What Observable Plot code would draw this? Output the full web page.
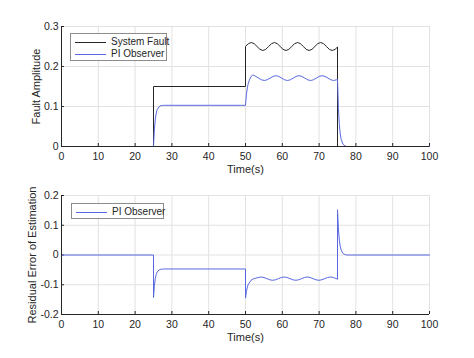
<!DOCTYPE html>
<html>
<head>
<meta charset="utf-8">
<script src="https://cdn.jsdelivr.net/npm/d3@7"></script>
<script src="https://cdn.jsdelivr.net/npm/@observablehq/plot@0.6"></script>
<style>
  html, body { margin: 0; padding: 0; background: white; }
  #wrap { position: relative; width: 474px; height: 358px; font-family: "Liberation Sans", Arial, sans-serif; }
  #wrap svg { display: block; }
  .legend { position: absolute; background: white; border: 1px solid #8c8c8c; box-sizing: border-box; font-size: 10px; color: #262626; }
  .legend .row { position: absolute; left: 0; height: 12px; line-height: 12px; white-space: nowrap; }
  .legend .sw { position: absolute; left: 4px; top: 6px; width: 31px; height: 0; border-top: 1px solid; }
  .legend .lb { position: absolute; left: 40px; top: 0; }
</style>
</head>
<body>
<div id="wrap"></div>
<script>
// ---- data ----
const xTicks = [0, 10, 20, 30, 40, 50, 60, 70, 80, 90, 100];
const yTicksTop = [0, 0.1, 0.2, 0.3];
const yTicksBottom = [-0.2, -0.1, 0, 0.1, 0.2];
const seriesNames = ["System Fault", "PI Observer"];

// System Fault: [time, amplitude]
const faultPts = [
  [0,0],[25,0],[25,0.15],[50,0.15],[50,0.25],
  [50.79,0.2571],[51.57,0.26],[52.36,0.2571],[53.14,0.25],[53.93,0.2429],[54.71,0.24],[55.50,0.2429],
  [56.28,0.25],[57.07,0.2571],[57.85,0.26],[58.64,0.2571],[59.42,0.25],[60.21,0.2429],[60.99,0.24],[61.78,0.2429],
  [62.57,0.25],[63.35,0.2571],[64.14,0.26],[64.92,0.2571],[65.71,0.25],[66.49,0.2429],[67.28,0.24],[68.06,0.2429],
  [68.85,0.25],[69.63,0.2571],[70.42,0.26],[71.21,0.2571],[71.99,0.25],[72.78,0.2429],[73.56,0.24],[74.35,0.2429],
  [75,0.2487],[75,0],[100,0]
];

// PI Observer estimate: [time, amplitude]
const observerPts = [
  [0,0],[25,0],[25.25,0.044],[25.5,0.069],[25.75,0.0835],[26,0.092],[26.5,0.0994],[27,0.102],[27.5,0.1027],[28,0.103],[50,0.103],
  [50.25,0.130],[50.5,0.1466],[50.75,0.1575],[51,0.1646],[51.5,0.175],[52,0.179],[52.76,0.1755],[53.54,0.171],[54.33,0.1668],
  [55.11,0.165],[55.90,0.1668],[56.68,0.171],[57.47,0.1752],[58.25,0.177],[59.04,0.1752],[59.82,0.171],[60.61,0.1668],
  [61.40,0.165],[62.18,0.1668],[62.97,0.171],[63.75,0.1752],[64.54,0.177],[65.32,0.1752],[66.11,0.171],[66.89,0.1668],
  [67.68,0.165],[68.46,0.1668],[69.25,0.171],[70.03,0.1752],[70.82,0.177],[71.60,0.1752],[72.39,0.171],[73.18,0.1668],
  [73.96,0.165],[74.75,0.1668],[75,0.168],
  [75.25,0.095],[75.5,0.055],[75.75,0.031],[76,0.018],[76.5,0.0055],[77,0.0017],[77.5,0],[100,0]
];

// Residual error of estimation (PI Observer): [time, error]
const residualPts = [
  [0,0],[25,0],[25,-0.143],[25.25,-0.102],[25.5,-0.0786],[25.75,-0.0651],[26,-0.0574],[26.5,-0.0504],[27,-0.0481],[27.5,-0.0474],[28,-0.047],[50,-0.047],
  [50,-0.145],[50.25,-0.123],[50.5,-0.108],[50.75,-0.099],[51,-0.094],[51.5,-0.085],[52,-0.081],[52.5,-0.079],
  [53.45,-0.0756],[54.23,-0.074],[55.02,-0.0756],[55.80,-0.0795],[56.59,-0.0834],[57.37,-0.085],[58.16,-0.0834],
  [58.94,-0.0795],[59.73,-0.0756],[60.51,-0.074],[61.30,-0.0756],[62.08,-0.0795],[62.87,-0.0834],[63.66,-0.085],
  [64.44,-0.0834],[65.23,-0.0795],[66.01,-0.0756],[66.80,-0.074],[67.58,-0.0756],[68.37,-0.0795],[69.15,-0.0834],
  [69.94,-0.085],[70.72,-0.0834],[71.51,-0.0795],[72.30,-0.0756],[73.08,-0.074],[73.87,-0.0756],[74.65,-0.0795],[75,-0.0814],
  [75,0.152],[75.25,0.087],[75.5,0.050],[75.75,0.0286],[76,0.0164],[76.5,0.005],[77,0.0017],[77.5,0],[100,0]
];

// ---- styling ----
const FAULT_COLOR = "#262626";
const OBS_COLOR = "#5868e0";
const AXIS_COLOR = "#262626";
const GRID_COLOR = "#e2e2e2";
const FONT = "'Liberation Sans', Arial, sans-serif";

const toObj = pts => pts.map(([t, v]) => ({t, v}));
const fmtY = d => d === 0 ? "0" : d.toFixed(1);

function panel({height, marginTop, marginBottom, yDomain, yTicks, yLabel, yLabelDx, lines}) {
  return Plot.plot({
    width: 474,
    height,
    marginLeft: 61,
    marginRight: 45,
    marginTop,
    marginBottom,
    style: {fontFamily: FONT, fontSize: "10.5px", color: AXIS_COLOR, background: "white", overflow: "visible"},
    x: {domain: [0, 100]},
    y: {domain: yDomain},
    marks: [
      Plot.gridX(xTicks, {stroke: GRID_COLOR, strokeOpacity: 1}),
      Plot.gridY(yTicks, {stroke: GRID_COLOR, strokeOpacity: 1}),
      // inward tick marks
      Plot.axisX(xTicks, {tickSize: 3, dy: -3, tickFormat: () => "", label: null, stroke: AXIS_COLOR}),
      Plot.axisY(yTicks, {tickSize: 3, dx: 3, tickFormat: () => "", label: null, stroke: AXIS_COLOR}),
      // tick labels
      Plot.axisX(xTicks, {tickSize: 0, tickPadding: 6, tickFormat: d => String(d), label: null, fill: AXIS_COLOR}),
      Plot.axisY(yTicks, {tickSize: 0, tickPadding: 3, tickFormat: fmtY, label: null, fill: AXIS_COLOR}),
      ...lines.map(l => Plot.line(toObj(l.pts), {x: "t", y: "v", stroke: l.color, strokeWidth: 1})),
      Plot.ruleX([0], {stroke: AXIS_COLOR, strokeWidth: 1}),
      Plot.ruleY([yDomain[0]], {stroke: AXIS_COLOR, strokeWidth: 1}),
      Plot.text([yLabel], {frameAnchor: "left", dx: yLabelDx, rotate: -90, textAnchor: "middle", fontSize: 11, fill: AXIS_COLOR}),
      Plot.text(["Time(s)"], {frameAnchor: "bottom", dy: 26, textAnchor: "middle", fontSize: 11, fill: AXIS_COLOR})
    ]
  });
}

const wrap = document.getElementById("wrap");

wrap.appendChild(panel({
  height: 180, marginTop: 26, marginBottom: 34,
  yDomain: [0, 0.3], yTicks: yTicksTop,
  yLabel: "Fault Amplitude", yLabelDx: -25,
  lines: [{pts: faultPts, color: FAULT_COLOR}, {pts: observerPts, color: OBS_COLOR}]
}));

wrap.appendChild(panel({
  height: 178, marginTop: 15, marginBottom: 44,
  yDomain: [-0.2, 0.2], yTicks: yTicksBottom,
  yLabel: "Residual Error of Estimation", yLabelDx: -29,
  lines: [{pts: residualPts, color: OBS_COLOR}]
}));

// legends
function legend(left, top, width, items) {
  const box = document.createElement("div");
  box.className = "legend";
  box.style.left = left + "px";
  box.style.top = top + "px";
  box.style.width = width + "px";
  box.style.height = (items.length * 12 + 4) + "px";
  items.forEach((it, i) => {
    const row = document.createElement("div");
    row.className = "row";
    row.style.top = (2 + i * 12) + "px";
    row.innerHTML = `<span class="sw" style="border-top-color:${it.color}"></span><span class="lb">${it.name}</span>`;
    box.appendChild(row);
  });
  wrap.appendChild(box);
}
legend(70, 33, 97, [{name: seriesNames[0], color: FAULT_COLOR}, {name: seriesNames[1], color: OBS_COLOR}]);
legend(71, 203, 93, [{name: seriesNames[1], color: OBS_COLOR}]);
</script>
</body>
</html>
